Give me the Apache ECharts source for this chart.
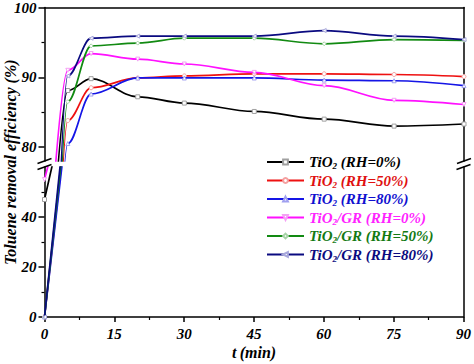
<!DOCTYPE html>
<html>
<head>
<meta charset="utf-8">
<script src="https://cdn.jsdelivr.net/npm/echarts@6/dist/echarts.min.js"></script>
<style>
html,body{margin:0;padding:0;background:#fff;}
#main{width:474px;height:364px;}
</style>
</head>
<body>
<div id="main"></div>
<script>
// ---- data ----
var times = [0, 5, 10, 20, 30, 45, 60, 75, 90];
var seriesNames = ['TiO2 (RH=0%)', 'TiO2 (RH=50%)', 'TiO2 (RH=80%)', 'TiO2/GR (RH=0%)', 'TiO2/GR (RH=50%)', 'TiO2/GR (RH=80%)'];
var tio2_rh0   = [47, 88.1, 89.8, 87.2, 86.3, 85.1, 84.0, 83.0, 83.3];
var tio2_rh50  = [0, 83.8, 88.5, 89.9, 90.2, 90.5, 90.5, 90.4, 90.1];
var tio2_rh80  = [0, 80.5, 87.6, 89.9, 89.9, 89.9, 89.6, 89.5, 88.8];
var tiogr_rh0  = [55, 91.0, 93.4, 92.6, 91.9, 90.7, 88.8, 86.7, 86.1];
var tiogr_rh50 = [0, 86.5, 94.5, 94.9, 95.6, 95.6, 94.8, 95.4, 95.3];
var tiogr_rh80 = [0, 90.2, 95.6, 95.9, 95.9, 95.9, 96.7, 95.9, 95.4];
var xTicks = [0, 15, 30, 45, 60, 75, 90];
var upperLabels = [80, 90, 100];
var upperMinorTicks = [85, 95];
var lowerLabels = [0, 20, 40];
var lowerMinorTicks = [10, 30, 50];

var allValues = [tio2_rh0, tio2_rh50, tio2_rh80, tiogr_rh0, tiogr_rh50, tiogr_rh80];
var lineColors = ['#000000', '#ee1111', '#1515e6', '#ff11ff', '#128a12', '#0a0a80'];
var textColors = ['#000000', '#e01010', '#1010d0', '#ff22ff', '#137a13', '#0a0a80'];
var markColors = ['#a0a0a0', '#f4a0a0', '#a0a0f0', '#f4a0f4', '#a8d4a8', '#a8a8dc'];
var symbols = ['rect', 'circle', 'triangle', 'triangle', 'diamond', 'triangle'];
var symbolRot = [0, 0, 0, 180, 0, 90];

var FONT = "'Times New Roman', 'Liberation Serif', serif";
var chart = echarts.init(document.getElementById('main'), null, {renderer: 'svg'});

function pairs(vals) {
  return times.map(function (t, i) { return [t, vals[i]]; });
}

var series = [];
// upper (broken-axis top part) — smooth curves
allValues.forEach(function (vals, i) {
  series.push({
    name: seriesNames[i], type: 'line', xAxisIndex: 0, yAxisIndex: 0,
    data: pairs(vals), smooth: 0.35, smoothMonotone: 'x', clip: true,
    symbol: symbols[i], symbolRotate: symbolRot[i], symbolSize: 4, showSymbol: true,
    lineStyle: {color: lineColors[i], width: 1.7},
    itemStyle: {color: '#ffffff', borderColor: markColors[i], borderWidth: 1},
    emphasis: {disabled: true}, z: 3 + i
  });
});
// lower part
allValues.forEach(function (vals, i) {
  series.push({
    name: seriesNames[i], type: 'line', xAxisIndex: 1, yAxisIndex: 2,
    data: pairs(vals), smooth: false, clip: true,
    symbol: symbols[i], symbolRotate: symbolRot[i], symbolSize: 4, showSymbol: true,
    lineStyle: {color: lineColors[i], width: 1.7},
    itemStyle: {color: '#ffffff', borderColor: markColors[i], borderWidth: 1},
    emphasis: {disabled: true}, z: 3 + i
  });
});

var axisLabelStyle = {fontFamily: FONT, fontSize: 15, fontWeight: 'bold', fontStyle: 'italic', color: '#000'};
var lineStyleBlack = {color: '#000', width: 1.5};

var option = {
  animation: false,
  backgroundColor: '#ffffff',
  grid: [
    {left: 44.5, right: 10, top: 6, height: 155},
    {left: 44.5, right: 10, top: 167, height: 150}
  ],
  xAxis: [
    {gridIndex: 0, type: 'value', min: 0, max: 90, interval: 15, position: 'top',
     axisLine: {show: true, lineStyle: lineStyleBlack}, axisTick: {show: false},
     axisLabel: {show: false}, splitLine: {show: false}},
    {gridIndex: 1, type: 'value', min: 0, max: 90, interval: 15, position: 'bottom',
     axisLine: {show: true, onZero: false, lineStyle: lineStyleBlack},
     axisTick: {show: true, inside: false, length: 5, lineStyle: lineStyleBlack, customValues: xTicks},
     minorTick: {show: true, splitNumber: 2, length: 3, lineStyle: {color: '#000', width: 1.2}},
     axisLabel: Object.assign({margin: 9, customValues: xTicks}, axisLabelStyle),
     splitLine: {show: false},
     name: '{i|t} {n|(min)}', nameLocation: 'middle', nameGap: 27,
     nameTextStyle: {rich: {
       i: {fontFamily: FONT, fontSize: 16, fontWeight: 'bold', fontStyle: 'italic', color: '#000'},
       n: {fontFamily: FONT, fontSize: 16, fontWeight: 'bold', fontStyle: 'italic', color: '#000'}
     }}}
  ],
  yAxis: [
    {gridIndex: 0, type: 'value', min: 78, max: 100, position: 'left',
     axisLine: {show: true, lineStyle: lineStyleBlack},
     axisTick: {show: true, inside: false, length: 6, lineStyle: lineStyleBlack, customValues: upperLabels},
     axisLabel: Object.assign({margin: 8, customValues: upperLabels}, axisLabelStyle),
     splitLine: {show: false}},
    {gridIndex: 0, type: 'value', min: 78, max: 100, position: 'right',
     axisLine: {show: true, lineStyle: lineStyleBlack}, axisTick: {show: false},
     axisLabel: {show: false}, splitLine: {show: false}},
    {gridIndex: 1, type: 'value', min: 0, max: 60, position: 'left',
     axisLine: {show: true, onZero: false, lineStyle: lineStyleBlack},
     axisTick: {show: true, inside: false, length: 6, lineStyle: lineStyleBlack, customValues: lowerLabels},
     axisLabel: Object.assign({margin: 8, customValues: lowerLabels}, axisLabelStyle),
     splitLine: {show: false}},
    {gridIndex: 1, type: 'value', min: 0, max: 60, position: 'right',
     axisLine: {show: true, onZero: false, lineStyle: lineStyleBlack}, axisTick: {show: false},
     axisLabel: {show: false}, splitLine: {show: false}},
    {gridIndex: 0, type: 'value', min: 78, max: 100, position: 'left',
     axisLine: {show: false},
     axisTick: {show: true, inside: false, length: 3, lineStyle: {color: '#000', width: 1.2}, customValues: upperMinorTicks},
     axisLabel: {show: false}, splitLine: {show: false}},
    {gridIndex: 1, type: 'value', min: 0, max: 60, position: 'left',
     axisLine: {show: false, onZero: false},
     axisTick: {show: true, inside: false, length: 3, lineStyle: {color: '#000', width: 1.2}, customValues: lowerMinorTicks},
     axisLabel: {show: false}, splitLine: {show: false}}
  ],
  legend: {
    orient: 'vertical', left: 266, top: 154.5, padding: 0,
    itemWidth: 37, itemHeight: 6, itemGap: 2.5,
    selectedMode: false,
    data: seriesNames.map(function (n, i) {
      return {name: n, textStyle: {color: textColors[i]}};
    }),
    formatter: function (name) {
      return name.replace(/^TiO2(.*)$/, function (m, rest) {
        return '{a|TiO}{s|2}{a|' + rest + '}';
      });
    },
    textStyle: {
      fontFamily: FONT, fontSize: 15, fontWeight: 'bold', fontStyle: 'italic',
      rich: {
        a: {fontFamily: FONT, fontSize: 15, fontWeight: 'bold', fontStyle: 'italic', lineHeight: 17},
        s: {fontFamily: FONT, fontSize: 9, fontWeight: 'bold', fontStyle: 'italic', lineHeight: 11, verticalAlign: 'bottom'}
      }
    }
  },
  series: series
};
chart.setOption(option);

// axis-break marks and y-axis title, placed from the axes' own pixel mapping
var pUL = chart.convertToPixel({xAxisIndex: 0, yAxisIndex: 0}, [0, 78]);
var pUR = chart.convertToPixel({xAxisIndex: 0, yAxisIndex: 0}, [90, 78]);
var pLL = chart.convertToPixel({xAxisIndex: 1, yAxisIndex: 2}, [0, 60]);
var pLR = chart.convertToPixel({xAxisIndex: 1, yAxisIndex: 2}, [90, 60]);
var pTop = chart.convertToPixel({xAxisIndex: 0, yAxisIndex: 0}, [0, 100]);
var pBot = chart.convertToPixel({xAxisIndex: 1, yAxisIndex: 2}, [0, 0]);
function slash(p) {
  return {type: 'line', shape: {x1: p[0] - 7, y1: p[1] + 2.5, x2: p[0] + 7, y2: p[1] - 2.5},
          style: {stroke: '#000', lineWidth: 1.5}, z: 100};
}
chart.setOption({
  graphic: [
    slash(pUL), slash(pUR), slash(pLL), slash(pLR),
    {type: 'text', x: 10, y: (pTop[1] + pBot[1]) / 2, rotation: Math.PI / 2,
     style: {text: 'Toluene removal efficiency (%)', fontFamily: FONT, fontSize: 16,
             fontWeight: 'bold', fontStyle: 'italic', fill: '#000',
             textAlign: 'center', textVerticalAlign: 'middle'}, z: 100}
  ]
});
</script>
</body>
</html>
